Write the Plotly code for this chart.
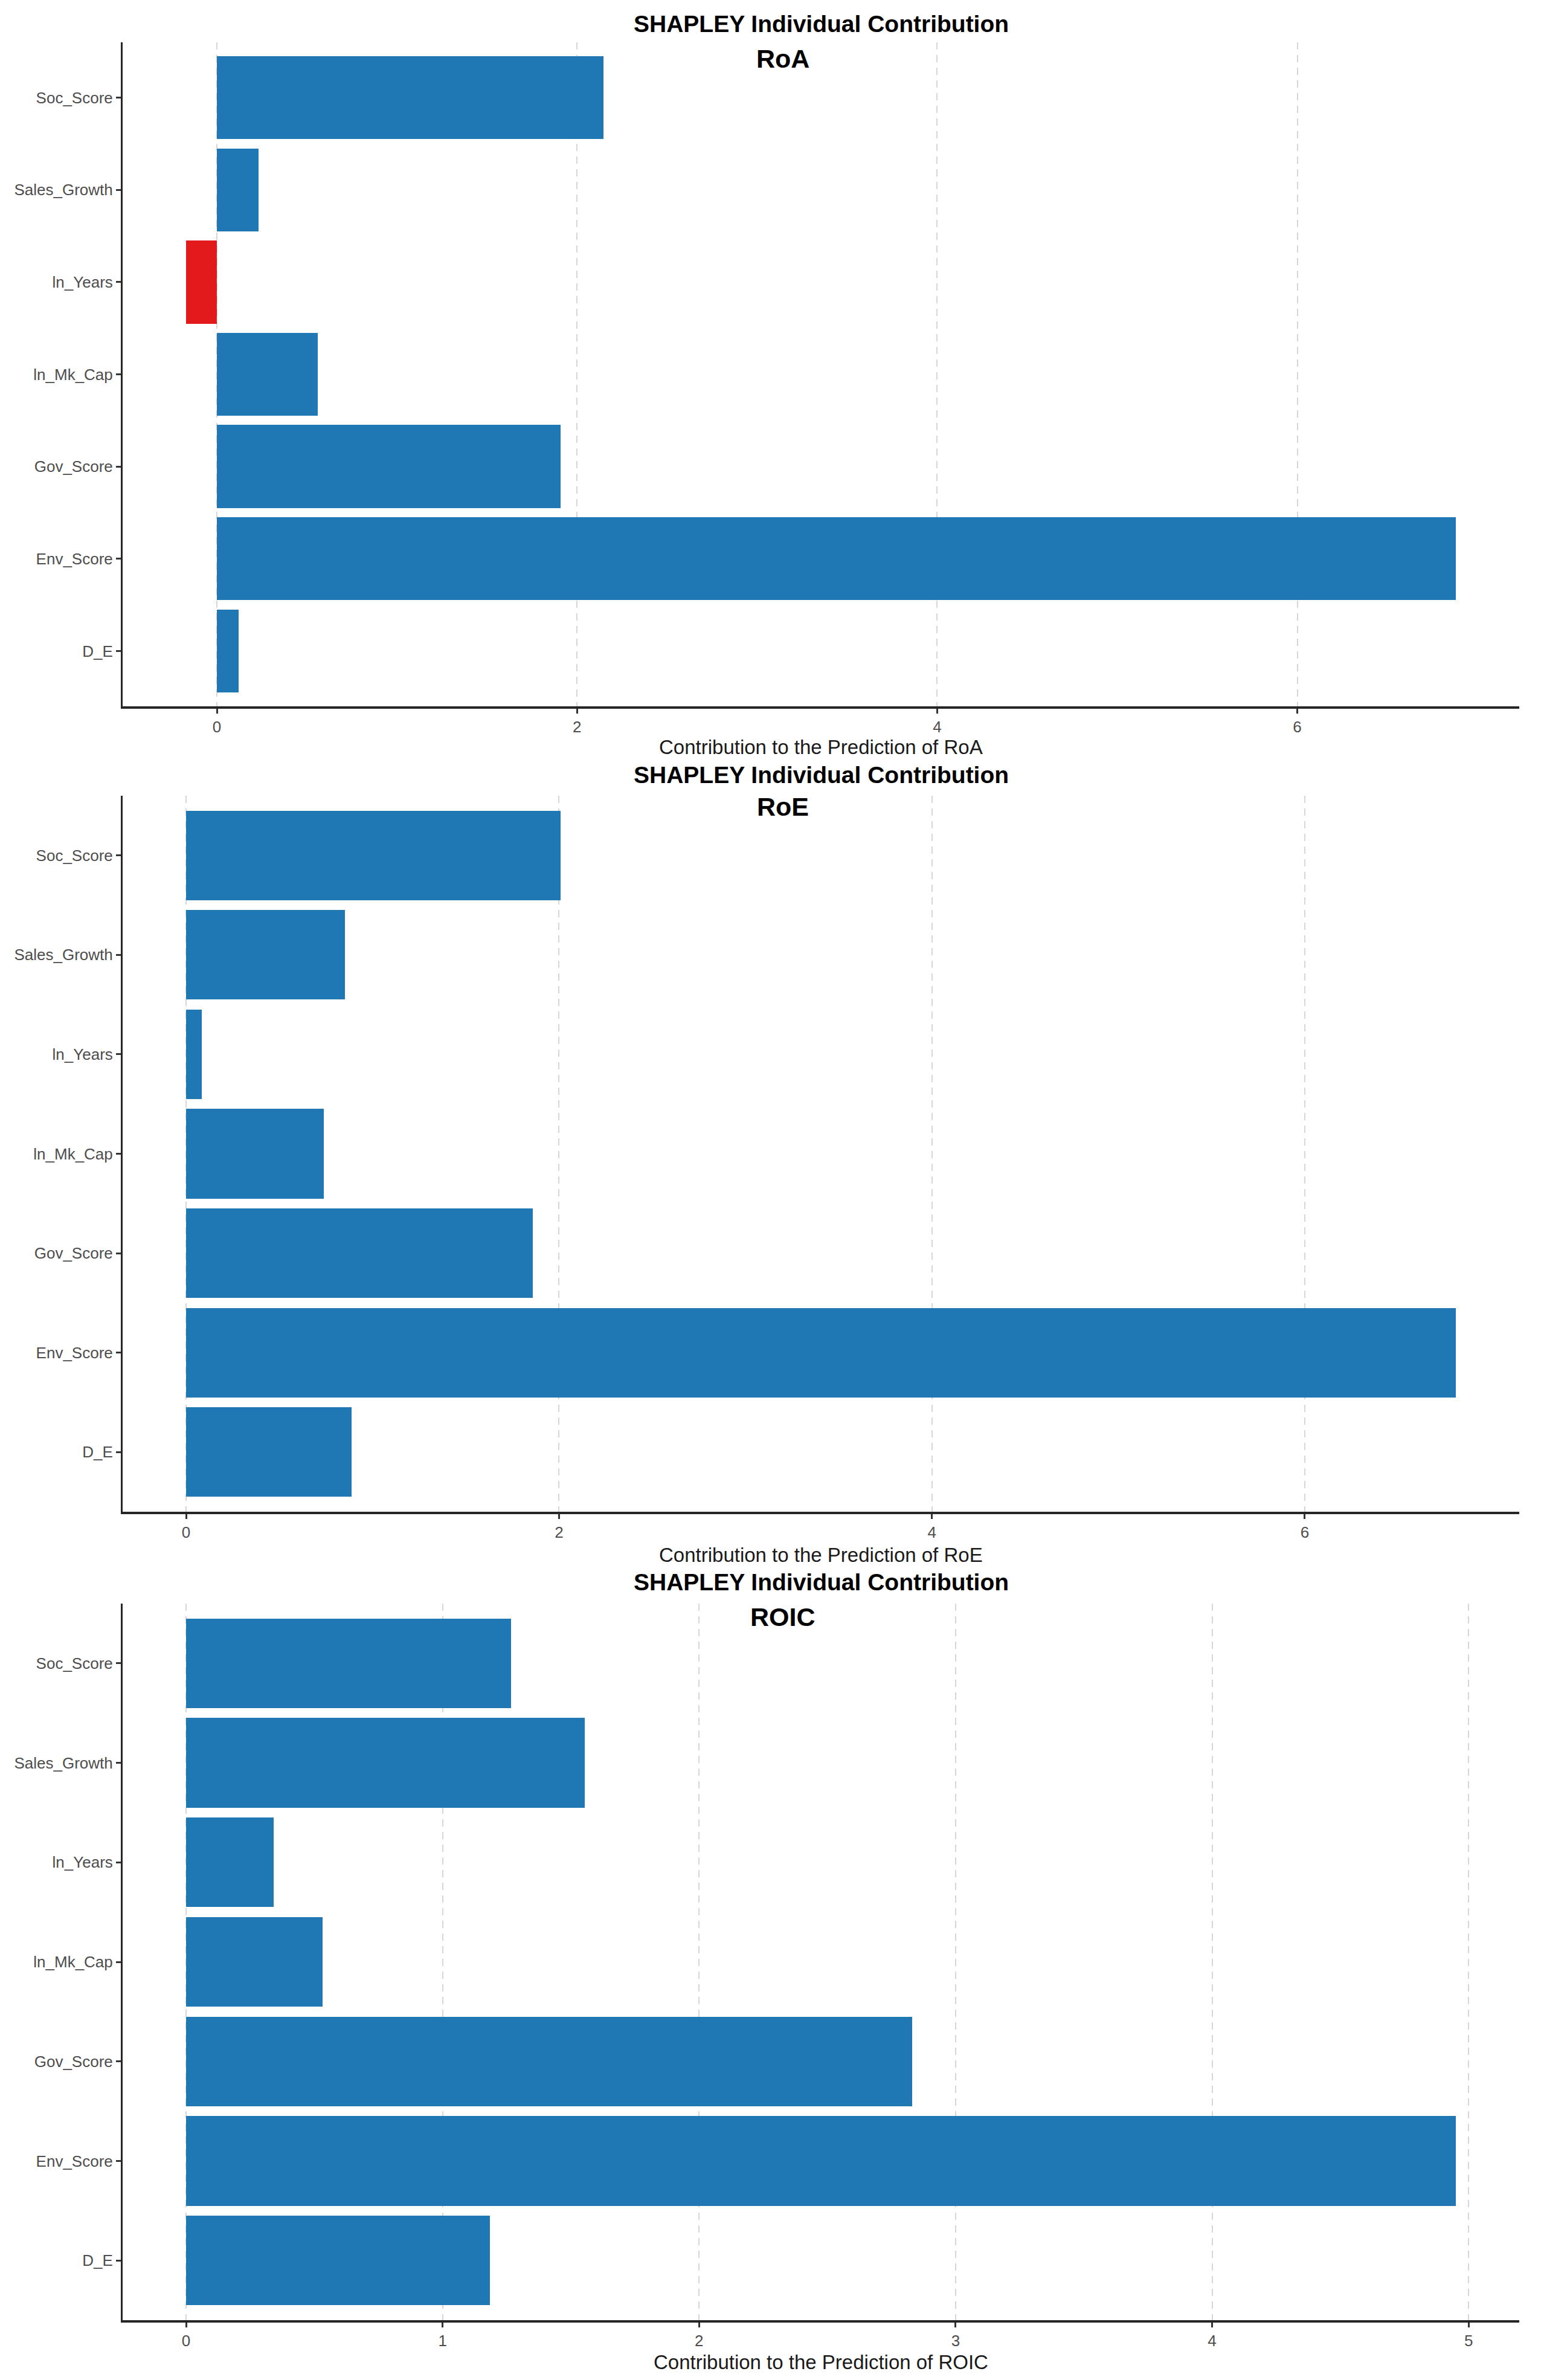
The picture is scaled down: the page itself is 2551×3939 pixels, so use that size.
import plotly.graph_objects as go

# ---------------- data ----------------
features = ["D_E", "Env_Score", "Gov_Score", "ln_Mk_Cap", "ln_Years", "Sales_Growth", "Soc_Score"]
roa_values = [0.121, 6.88, 1.91, 0.56, -0.171, 0.23, 2.146]
roe_values = [0.886, 6.81, 1.86, 0.74, 0.085, 0.853, 2.01]
roic_values = [1.185, 4.95, 2.83, 0.532, 0.341, 1.554, 1.266]
targets = ["RoA", "RoE", "ROIC"]
x_tickvals = [[0, 2, 4, 6], [0, 2, 4, 6], [0, 1, 2, 3, 4, 5]]
main_title = "SHAPLEY Individual Contribution"
axis_title_prefix = "Contribution to the Prediction of "

# ---------------- style ----------------
W, H = 2551, 3939
POS_COLOR = "#1F78B4"
NEG_COLOR = "#E31A1C"
FONT = "Liberation Sans, Arial, sans-serif"

# panel geometry in pixels (top, bottom) measured from top of the page
panels_px = [(70, 1169), (1317, 2502), (2654, 3840)]
x_left_px, x_right_px = 203, 2515
title_y_px = [39, 1282, 2618]
sub_y_px = [97, 1335, 2676]
axtitle_y_px = [1236, 2573, 3909]
title_x_px = 1359
sub_x_px = 1296


def py(px):
    return 1 - px / H


def pxx(px):
    return px / W


fig = go.Figure()
series = [roa_values, roe_values, roic_values]
annotations = []
for i, (vals, tgt, tv) in enumerate(zip(series, targets, x_tickvals)):
    n = "" if i == 0 else str(i + 1)
    xa, ya = "x" + n, "y" + n
    fig.add_trace(go.Bar(
        x=vals, y=features, orientation="h", width=0.9,
        marker=dict(color=[POS_COLOR if v >= 0 else NEG_COLOR for v in vals], line=dict(width=0)),
        xaxis=xa, yaxis=ya, showlegend=False,
    ))
    lo = min(0, min(vals))
    hi = max(0, max(vals))
    pad = 0.05 * (hi - lo)
    top, bot = panels_px[i]
    axis_common = dict(
        showline=True, linecolor="#262626", mirror=False,
        ticks="outside", ticklen=8, tickwidth=3, tickcolor="#333333",
        tickfont=dict(family=FONT, size=26, color="#4D4D4D"),
        zeroline=False,
    )
    fig.layout["xaxis" + n] = dict(
        axis_common, linewidth=4,
        domain=[pxx(x_left_px), pxx(x_right_px)], anchor=ya,
        range=[lo - pad, hi + pad], tickvals=tv,
        showgrid=True, gridcolor="#D6D6D6", gridwidth=2, griddash="12px,9px",
    )
    fig.layout["yaxis" + n] = dict(
        axis_common, linewidth=3,
        domain=[py(bot), py(top)], anchor=xa,
        type="category", categoryorder="array", categoryarray=features,
        range=[-0.6, len(features) - 0.4], showgrid=False,
        ticklabelstandoff=0,
    )
    annotations.append(dict(
        text="<b>" + main_title + "</b>", x=pxx(title_x_px), y=py(title_y_px[i]),
        xref="paper", yref="paper", xanchor="center", yanchor="middle", showarrow=False,
        font=dict(family=FONT, size=39, color="#000000"),
    ))
    annotations.append(dict(
        text="<b>" + tgt + "</b>", x=pxx(sub_x_px), y=py(sub_y_px[i]),
        xref="paper", yref="paper", xanchor="center", yanchor="middle", showarrow=False,
        font=dict(family=FONT, size=43, color="#000000"),
    ))
    annotations.append(dict(
        text=axis_title_prefix + tgt, x=pxx(title_x_px), y=py(axtitle_y_px[i]),
        xref="paper", yref="paper", xanchor="center", yanchor="middle", showarrow=False,
        font=dict(family=FONT, size=33, color="#1A1A1A"),
    ))

fig.update_layout(
    width=W, height=H,
    margin=dict(l=0, r=0, t=0, b=0),
    paper_bgcolor="white", plot_bgcolor="white",
    annotations=annotations,
    bargap=0,
)

fig.write_html("out.html")
